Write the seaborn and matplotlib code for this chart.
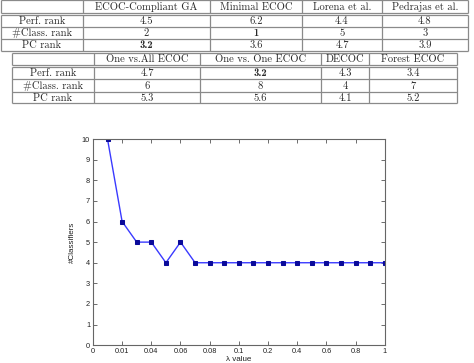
import pandas as pd
import matplotlib.pyplot as plt
import seaborn as sns

# table data
row_names = ["Perf. rank", "#Class. rank", "PC rank"]
table1_cols = ["ECOC-Compliant GA", "Minimal ECOC", "Lorena et al.", "Pedrajas et al."]
table1_perf = ["4.5", "6.2", "4.4", "4.8"]
table1_nclass = ["2", "1", "5", "3"]
table1_pc = ["3.2", "3.6", "4.7", "3.9"]
table2_cols = ["One vs.All ECOC", "One vs. One ECOC", "DECOC", "Forest ECOC"]
table2_perf = ["4.7", "3.2", "4.3", "3.4"]
table2_nclass = ["6", "8", "4", "7"]
table2_pc = ["5.3", "5.6", "4.1", "5.2"]

# line chart data
step = [1, 2, 3, 4, 5, 6, 7, 8, 9, 10, 11, 12, 13, 14, 15, 16, 17, 18, 19, 20]
n_classifiers = [10, 6, 5, 5, 4, 5, 4, 4, 4, 4, 4, 4, 4, 4, 4, 4, 4, 4, 4, 4]
tick_pos = [0, 2, 4, 6, 8, 10, 12, 14, 16, 18, 20]
tick_labels = ["0", "0.01", "0.04", "0.06", "0.08", "0.1", "0.2", "0.4", "0.6", "0.8", "1"]

sns.set_style("ticks")
plt.rcParams["font.family"] = ["Liberation Sans", "DejaVu Sans"]

fig = plt.figure(figsize=(4.74, 3.63), dpi=100)

# ---- tables, drawn in a pixel-space overlay
tab = fig.add_axes([0, 0, 1, 1])
tab.set_xlim(0, 474)
tab.set_ylim(363, 0)
tab.axis("off")

grid = "#8a8a8a"
txt = "#2a2a2a"
serif = ["cmr10", "DejaVu Serif"]
serif_bold = ["cmb10", "DejaVu Serif"]
fs = 7.6


def draw_table(xs, ys, cols, rows, bold):
    top, hb, hb2 = ys[0], ys[1], ys[2]
    # header box
    tab.hlines([top, hb], xs[0], xs[-1], color=grid, lw=0.9)
    tab.vlines(xs, top, hb, color=grid, lw=0.9)
    # body box
    tab.hlines(ys[2:], xs[0], xs[-1], color=grid, lw=0.9)
    tab.vlines(xs, hb2, ys[-1], color=grid, lw=0.9)
    for j, c in enumerate(cols):
        tab.text((xs[j + 1] + xs[j + 2]) / 2, (top + hb) / 2 + 0.5, c, ha="center", va="center",
                 family=serif, fontsize=fs, color=txt)
    for i, (name, vals) in enumerate(zip(row_names, rows)):
        yc = (ys[2 + i] + ys[3 + i]) / 2 + 0.5
        tab.text((xs[0] + xs[1]) / 2, yc, name, ha="center", va="center",
                 family=serif, fontsize=fs, color=txt)
        for j, v in enumerate(vals):
            fam = serif_bold if (i, j) in bold else serif
            tab.text((xs[j + 1] + xs[j + 2]) / 2, yc, v, ha="center", va="center",
                     family=fam, fontsize=fs, color=txt)


draw_table([1, 83, 210, 302, 382, 468], [0, 12.5, 14.5, 27, 38.5, 50.5],
           table1_cols, [table1_perf, table1_nclass, table1_pc], {(1, 1), (2, 0)})
draw_table([12, 94, 200, 321, 369, 457], [53, 64.5, 66.5, 79, 91.5, 103],
           table2_cols, [table2_perf, table2_nclass, table2_pc], {(0, 1)})

# ---- line chart
ax = fig.add_axes([0.196, 0.049, 0.616, 0.568])
df = pd.DataFrame({"step": step, "n": n_classifiers})
sns.lineplot(data=df, x="step", y="n", ax=ax, color="#3a3aff", lw=1.0,
             marker="s", markersize=3.3, markerfacecolor="#0a0a9a",
             markeredgecolor="#0a0a9a")

ax.set_xlim(0, 20)
ax.set_ylim(0, 10)
ax.set_xticks(tick_pos)
ax.set_xticklabels(tick_labels)
ax.set_yticks(range(0, 11))
ax.tick_params(direction="in", length=3, width=0.6, colors="#555555",
               labelsize=5.3, labelcolor="#222222", top=True, right=True, pad=2)
for s in ax.spines.values():
    s.set_color("#666666")
    s.set_linewidth(0.8)
ax.set_xlabel("λ value", fontsize=5.8, labelpad=1, color="#222222")
ax.set_ylabel("#Classifiers", fontsize=5.8, labelpad=4, color="#222222")

fig.savefig("out.png", dpi=100)
